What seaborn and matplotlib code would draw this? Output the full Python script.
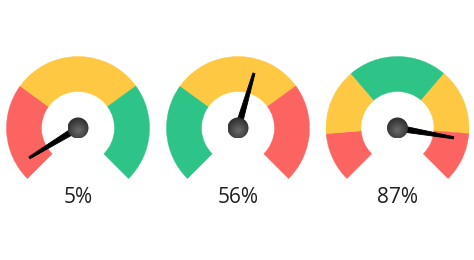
import numpy as np
import matplotlib
matplotlib.use("Agg")
import matplotlib.pyplot as plt
from matplotlib.patches import Wedge, Circle, Polygon
import seaborn as sns

# Gauge readings (percent) and their captions
values = [5, 56, 87]
captions = ["5%", "56%", "87%"]

# Colour bands along each dial, in percent of the full sweep
band_sizes = [
    [30, 40, 30],
    [30, 40, 30],
    [15, 20, 30, 20, 15],
]
band_colors = [
    ["red", "yellow", "green"],
    ["green", "yellow", "red"],
    ["red", "yellow", "green", "yellow", "red"],
]

sns.set_theme(style="white")
plt.rcParams["font.family"] = ["Open Sans", "DejaVu Sans"]

palette = {"red": "#FC6462", "yellow": "#FEC843", "green": "#2EC487"}

W, H = 474, 260
fig = plt.figure(figsize=(W / 100, H / 100), dpi=100)
fig.patch.set_facecolor("white")

centers_x = [78, 238, 397.5]
center_y = 128
R_OUT, R_IN = 71.5, 36.5
START, SWEEP = 225.0, 270.0
HALF = 80


def angle_of(pct):
    return START - pct / 100.0 * SWEEP


def hub(ax, r):
    n = 200
    xs = np.linspace(-r, r, n)
    X, Y = np.meshgrid(xs, xs)
    d = np.sqrt(X ** 2 + (Y + 0.25 * r) ** 2) / (1.25 * r)
    d = np.clip(d, 0, 1)
    light = np.array([0.42, 0.42, 0.42])
    dark = np.array([0.16, 0.16, 0.16])
    img = light[None, None, :] * (1 - d[..., None]) + dark[None, None, :] * d[..., None]
    im = ax.imshow(img, extent=(-r, r, -r, r), origin="lower", zorder=5,
                   interpolation="bilinear")
    clip = Circle((0, 0), r, transform=ax.transData)
    im.set_clip_path(clip)


for i, cx in enumerate(centers_x):
    ax = fig.add_axes([(cx - HALF) / W, 0, 2 * HALF / W, 1])
    ax.set_xlim(-HALF, HALF)
    ax.set_ylim(-(H - center_y), center_y)
    ax.set_aspect("equal")
    ax.axis("off")

    # coloured bands
    pos = 0.0
    for size, cname in zip(band_sizes[i], band_colors[i]):
        t2 = angle_of(pos)
        t1 = angle_of(pos + size)
        ax.add_patch(Wedge((0, 0), R_OUT, t1, t2, width=R_OUT - R_IN,
                           facecolor=palette[cname], edgecolor=palette[cname],
                           linewidth=0.3, zorder=1))
        pos += size

    # needle, tapered from hub to tip
    a = np.deg2rad(angle_of(values[i]))
    L = 57.0
    ux, uy = np.cos(a), np.sin(a)
    px, py = -uy, ux
    wb, wt = 3.2, 1.1
    pts = [(px * wb, py * wb), (ux * L + px * wt, uy * L + py * wt),
           (ux * L - px * wt, uy * L - py * wt), (-px * wb, -py * wb)]
    ax.add_patch(Polygon(pts, closed=True, facecolor="black",
                         edgecolor="black", linewidth=0.6, joinstyle="round",
                         zorder=4))

    hub(ax, 10.5)

    ax.text(0, center_y - 203, captions[i], ha="center", va="baseline",
            fontsize=15, color="#1e1e1e")

fig.savefig("out.png", dpi=100, facecolor="white")
